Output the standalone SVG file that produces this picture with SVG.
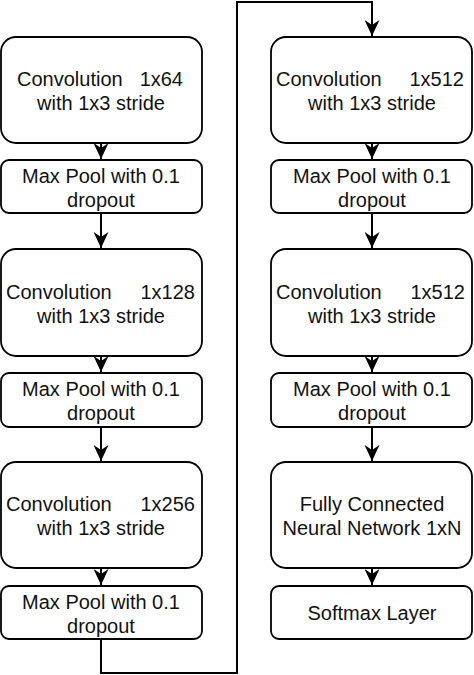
<svg xmlns="http://www.w3.org/2000/svg" width="474" height="675" viewBox="0 0 474 675">
<style>
.box{fill:#fff;stroke:#000;stroke-width:1.8}
.t{font-family:"Liberation Sans",Arial,sans-serif;font-size:20px;fill:#111}
.m{text-anchor:middle}
.e{text-anchor:end}
.c{fill:none;stroke:#000;stroke-width:2}
</style>
<defs>
<marker id="ah" viewBox="0 0 16 15" refX="16" refY="7.5" markerWidth="16" markerHeight="15" markerUnits="userSpaceOnUse" orient="auto">
<path d="M0,0 L16,7.5 L0,15 L5,7.5 Z" fill="#000"/>
</marker>
</defs>
<g id="connectors">
<path class="c" d="M101,143 V159" marker-end="url(#ah)"/>
<path class="c" d="M101,213 V248" marker-end="url(#ah)"/>
<path class="c" d="M101,356 V372" marker-end="url(#ah)"/>
<path class="c" d="M101,427 V461" marker-end="url(#ah)"/>
<path class="c" d="M101,568 V585" marker-end="url(#ah)"/>
<path class="c" d="M101,639 V673 H237 V2 H372 V36" marker-end="url(#ah)"/>
<path class="c" d="M372,143 V159" marker-end="url(#ah)"/>
<path class="c" d="M372,213 V248" marker-end="url(#ah)"/>
<path class="c" d="M372,356 V372" marker-end="url(#ah)"/>
<path class="c" d="M372,427 V461" marker-end="url(#ah)"/>
<path class="c" d="M372,568 V585" marker-end="url(#ah)"/>
</g>
<g id="conv1">
<rect class="box" x="1" y="37" width="201" height="106" rx="15"/>
<text class="t"><tspan x="17" y="86">Convolution</tspan><tspan class="e" x="183" y="86">1x64</tspan></text>
<text class="t m" x="101" y="110">with 1x3 stride</text>
</g>
<g id="pool1">
<rect class="box" x="1" y="160" width="201" height="53" rx="8"/>
<text class="t m" x="101" y="183">Max Pool with 0.1</text>
<text class="t m" x="101" y="207">dropout</text>
</g>
<g id="conv2">
<rect class="box" x="1" y="249" width="201" height="107" rx="15"/>
<text class="t"><tspan x="6" y="299">Convolution</tspan><tspan class="e" x="195" y="299">1x128</tspan></text>
<text class="t m" x="101" y="323">with 1x3 stride</text>
</g>
<g id="pool2">
<rect class="box" x="1" y="373" width="201" height="54" rx="8"/>
<text class="t m" x="101" y="396">Max Pool with 0.1</text>
<text class="t m" x="101" y="420">dropout</text>
</g>
<g id="conv3">
<rect class="box" x="1" y="462" width="201" height="106" rx="15"/>
<text class="t"><tspan x="6" y="511">Convolution</tspan><tspan class="e" x="195" y="511">1x256</tspan></text>
<text class="t m" x="101" y="535">with 1x3 stride</text>
</g>
<g id="pool3">
<rect class="box" x="1" y="586" width="201" height="53" rx="8"/>
<text class="t m" x="101" y="609">Max Pool with 0.1</text>
<text class="t m" x="101" y="633">dropout</text>
</g>
<g id="conv4">
<rect class="box" x="271" y="37" width="201" height="106" rx="15"/>
<text class="t"><tspan x="276" y="86">Convolution</tspan><tspan class="e" x="464" y="86">1x512</tspan></text>
<text class="t m" x="372" y="110">with 1x3 stride</text>
</g>
<g id="pool4">
<rect class="box" x="271" y="160" width="201" height="53" rx="8"/>
<text class="t m" x="372" y="183">Max Pool with 0.1</text>
<text class="t m" x="372" y="207">dropout</text>
</g>
<g id="conv5">
<rect class="box" x="271" y="249" width="201" height="107" rx="15"/>
<text class="t"><tspan x="276" y="299">Convolution</tspan><tspan class="e" x="465" y="299">1x512</tspan></text>
<text class="t m" x="372" y="323">with 1x3 stride</text>
</g>
<g id="pool5">
<rect class="box" x="271" y="373" width="201" height="54" rx="8"/>
<text class="t m" x="372" y="396">Max Pool with 0.1</text>
<text class="t m" x="372" y="420">dropout</text>
</g>
<g id="fc">
<rect class="box" x="271" y="462" width="201" height="106" rx="15"/>
<text class="t m" x="372" y="511">Fully Connected</text>
<text class="t m" x="372" y="535">Neural Network 1xN</text>
</g>
<g id="softmax">
<rect class="box" x="271" y="586" width="201" height="53" rx="8"/>
<text class="t m" x="372" y="620">Softmax Layer</text>
</g>
</svg>
